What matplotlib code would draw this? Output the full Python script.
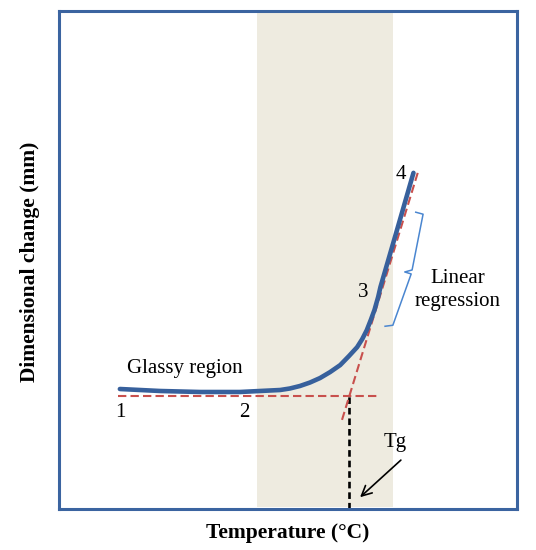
import numpy as np
import matplotlib
matplotlib.use("Agg")
import matplotlib.pyplot as plt

# Messkurve (Temperatur, Längenänderung) in willkürlichen Einheiten 0..100
temp = [13.3, 22.1, 30.8, 39.5, 43.9, 48.3, 50.4, 52.6, 54.8, 57.0, 59.2, 61.4, 63.3, 65.1,
        66.2, 67.2, 68.1, 68.9, 69.7, 70.2, 73.8, 77.4]
dim = [24.1, 23.7, 23.5, 23.5, 23.7, 23.9, 24.2, 24.7, 25.4, 26.3, 27.5, 28.9, 30.7, 32.5,
       34.1, 35.9, 38.0, 40.0, 42.6, 44.6, 56.0, 67.5]

# Tangenten (Start- und Endpunkte)
glassy_x = [12.9, 69.4]
glassy_y = [22.7, 22.7]
rubber_x = [61.8, 78.4]
rubber_y = [17.9, 67.7]

# Übergangsbereich (schattiert)
band = [43.2, 72.9]

# Klammer für lineare Regression
brace_x = [77.9, 79.5, 77.1, 75.5, 76.9, 72.9, 71.2]
brace_y = [59.6, 59.2, 48.0, 47.6, 47.2, 36.9, 36.7]

# Beschriftungen
point_labels = ["1", "2", "3", "4"]
point_x = [13.5, 40.4, 66.4, 74.6]
point_y = [19.3, 19.3, 43.4, 67.1]

BLUE = "#37609c"
RED = "#c8504d"
SHADE = "#eeebe0"
FONT = "Liberation Serif"
FS = 15

fig = plt.figure(figsize=(5.36, 5.5), dpi=100)
ax = fig.add_axes([0.110, 0.0745, 0.8545, 0.9055])
ax.set_xlim(0, 100)
ax.set_ylim(0, 100)
ax.set_xticks([])
ax.set_yticks([])
for s in ax.spines.values():
    s.set_color("#3b64a0")
    s.set_linewidth(2.2)

ax.axvspan(band[0], band[1], ymin=0.004, ymax=0.996, color=SHADE, lw=0, zorder=0)

# Schnittpunkt der Tangenten -> Tg
slope = (rubber_y[1] - rubber_y[0]) / (rubber_x[1] - rubber_x[0])
tg = rubber_x[0] + (glassy_y[0] - rubber_y[0]) / slope

ax.plot([tg, tg], [0, glassy_y[0]], color="black", lw=1.9, ls=(0, (2.5, 1.5)), zorder=2)
ax.plot(glassy_x, glassy_y, color=RED, lw=1.5, ls=(0, (4, 2)), zorder=3)
ax.plot(rubber_x, rubber_y, color=RED, lw=1.5, ls=(0, (4, 2)), zorder=3)
ax.plot(temp, dim, color=BLUE, lw=3.3, solid_capstyle="round", solid_joinstyle="round", zorder=4)

ax.plot(brace_x, brace_y, color="#4a86d0", lw=1.1, zorder=3)

for lab, x, y in zip(point_labels, point_x, point_y):
    ax.text(x, y, lab, fontsize=FS, family=FONT, ha="center", va="center")

ax.text(27.5, 28.3, "Glassy region", fontsize=FS, family=FONT, ha="center", va="center")
ax.text(87.1, 44.0, "Linear\nregression", fontsize=FS, family=FONT, ha="center", va="center",
        linespacing=1.25)
ax.text(73.4, 13.3, "Tg", fontsize=FS, family=FONT, ha="center", va="center")
ax.annotate("", xy=(65.3, 2.0), xytext=(75.1, 10.2),
            arrowprops=dict(arrowstyle="->", color="black", lw=1.2, mutation_scale=18))

fig.text(0.537, 0.031, "Temperature (°C)", fontsize=15.5, family=FONT, weight="bold",
         ha="center", va="center")
fig.text(0.056, 0.524, "Dimensional change (mm)", fontsize=15.5, family=FONT, weight="bold",
         ha="center", va="center", rotation=90)

fig.savefig("out.png", dpi=100)
